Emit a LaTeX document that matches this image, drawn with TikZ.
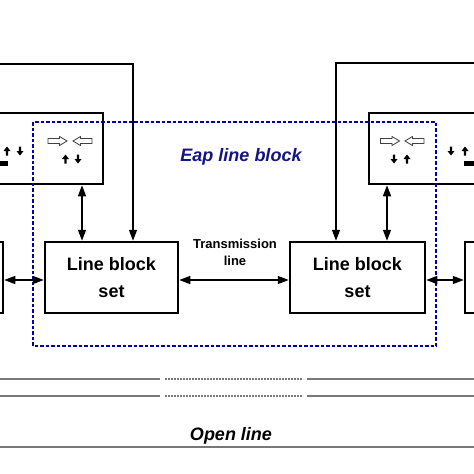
\documentclass[tikz,border=0pt]{standalone}
\usepackage{fontspec}
\setmainfont{Liberation Sans}
\usetikzlibrary{arrows.meta,calc}
\definecolor{eapblue}{RGB}{0,0,170}
\definecolor{eaptext}{RGB}{20,20,130}
\definecolor{linegray}{RGB}{120,120,120}
\tikzset{
  blockbox/.style={draw=black, line width=2.5pt, fill=white, minimum height=71pt, inner sep=0pt},
  conn/.style={line width=1.5pt, -{Triangle[length=11pt,width=8pt]}},
  bconn/.style={line width=1.5pt, {Triangle[length=11pt,width=8pt]}-{Triangle[length=11pt,width=8pt]}},
  eapframe/.style={draw=eapblue, line width=2pt, dash pattern=on 3.5pt off 2pt},
  gline/.style={draw=linegray, line width=1.3pt},
  gdots/.style={draw=linegray, line width=1.3pt, dash pattern=on 1.6pt off 1.4pt},
  uparr/.pic={\fill (-1.2,4.5)--(1.2,4.5)--(1.2,0)--(3.5,0)--(0,-4.5)--(-3.5,0)--(-1.2,0)--cycle;},
  dnarr/.pic={\fill (-1.2,-4.5)--(1.2,-4.5)--(1.2,0)--(3.5,0)--(0,4.5)--(-3.5,0)--(-1.2,0)--cycle;},
  rhollow/.pic={\draw[line width=0.8pt, draw=black!75] (-9.5,-2.5)--(2,-2.5)--(2,-4.5)--(9.5,0)--(2,4.5)--(2,2.5)--(-9.5,2.5)--cycle;},
  lhollow/.pic={\draw[line width=0.8pt, draw=black!75] (9.5,-2.5)--(-2,-2.5)--(-2,-4.5)--(-9.5,0)--(-2,4.5)--(-2,2.5)--(9.5,2.5)--cycle;},
}
\begin{document}
\begin{tikzpicture}[x=1pt,y=-1pt]
\useasboundingbox (0,0) rectangle (474,474);
\clip (0,0) rectangle (474,474);
\fill[white] (0,0) rectangle (474,474);

% boxes
\node[blockbox, minimum width=123pt] (tl) at (41.5,148.5) {};
\node[blockbox, minimum width=131pt] (tr) at (434.5,148.5) {};
\node[blockbox, minimum width=33pt] (lp) at (-13.5,277.5) {};
\node[blockbox, minimum width=35pt] (rp) at (482.5,277.5) {};
\node[blockbox, minimum width=133pt, align=center, font=\fontsize{18}{27}\selectfont\bfseries] (lb1) at (111.5,277.5) {Line block\\set};
\node[blockbox, minimum width=135pt, align=center, font=\fontsize{18}{27}\selectfont\bfseries] (lb2) at (357.5,277.5) {Line block\\set};

% symbols in top boxes
\pic at (57.5,141) {rhollow};
\pic at (82.5,141) {lhollow};
\pic at (65.5,159) {uparr};
\pic at (78,159) {dnarr};
\pic at (7,151) {uparr};
\pic at (20,151) {dnarr};
\fill (-2,161) rectangle (8,166);

\pic at (390,141) {rhollow};
\pic at (414.5,141) {lhollow};
\pic at (394,159) {dnarr};
\pic at (407,159) {uparr};
\pic at (451,151) {dnarr};
\pic at (465,151) {uparr};
\fill (464,161) rectangle (476,166);

% dashed frame
\draw[eapframe] (33,122) rectangle (436,346);
\node[text=eaptext, font=\fontsize{18}{20}\selectfont\bfseries\itshape] (eap) at (241,157) {Eap line block};

% connectors
\coordinate (a1) at (82,0);
\coordinate (c1) at (133,0);
\coordinate (a2) at (387,0);
\coordinate (c2) at (336,0);
\coordinate (f1) at (-2,64);
\coordinate (f2) at (476,63);
\draw[bconn] (tl.south -| a1) -- (lb1.north -| a1);
\draw[conn] (f1) -| (lb1.north -| c1);
\draw[bconn] (tr.south -| a2) -- (lb2.north -| a2);
\draw[conn] (f2) -| (lb2.north -| c2);
\draw[bconn] ([yshift=-2.5pt]lp.east) -- ([yshift=-2.5pt]lb1.west);
\draw[bconn] ([yshift=-2.5pt]lb1.east) -- ([yshift=-2.5pt]lb2.west);
\draw[bconn] ([yshift=-2.5pt]lb2.east) -- ([yshift=-2.5pt]rp.west);
\node[align=center, font=\fontsize{13}{17}\selectfont\bfseries] (tx) at (235,252) {Transmission\\line};

% bottom lines
\draw[gline] (0,379) -- (160,379);
\draw[gdots] (165,379) -- (303,379);
\draw[gline] (307,379) -- (474,379);
\draw[gline] (0,396) -- (160,396);
\draw[gdots] (165,396) -- (303,396);
\draw[gline] (307,396) -- (474,396);
\node[font=\fontsize{18}{20}\selectfont\bfseries\itshape] (ol) at (231,436) {Open line};
\draw[gline] (0,447) -- (474,447);
\end{tikzpicture}
\end{document}
